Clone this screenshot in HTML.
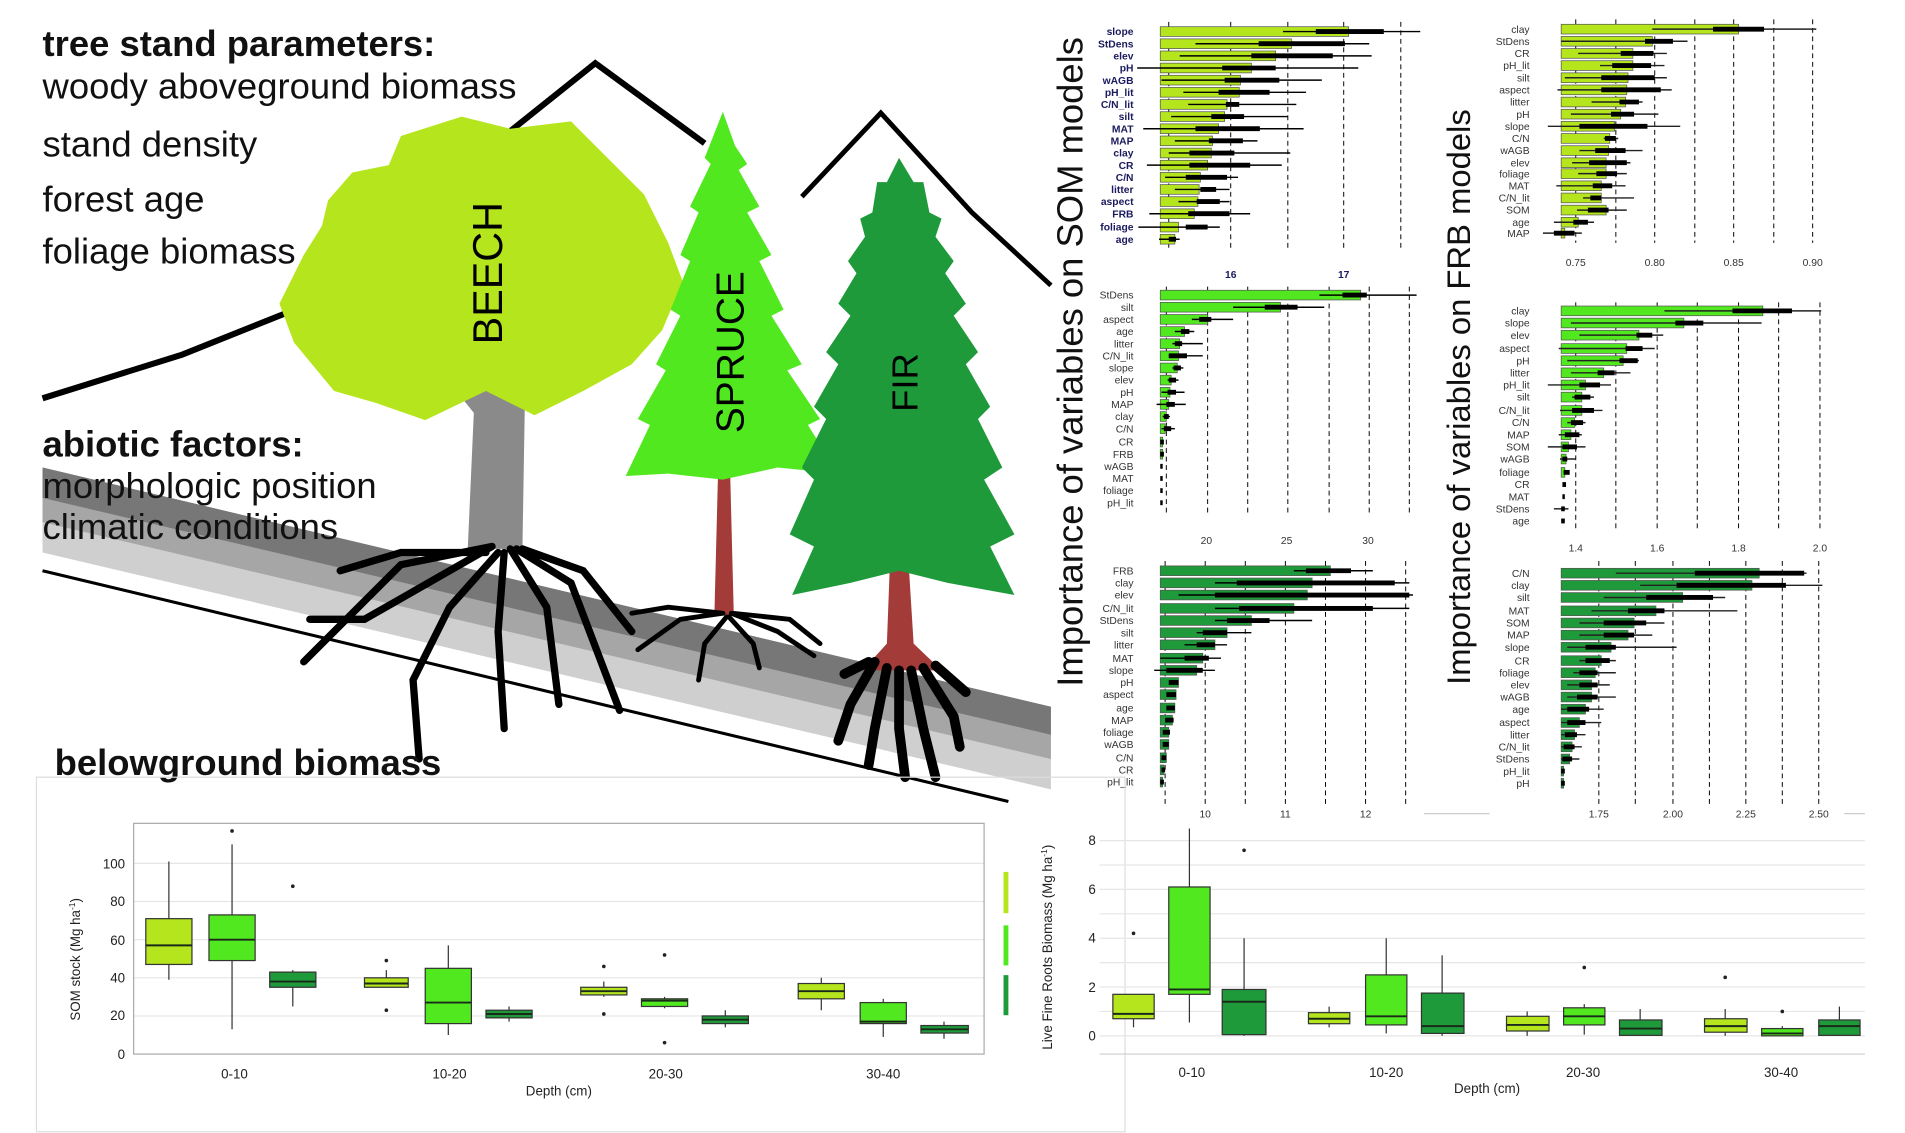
<!DOCTYPE html>
<html><head><meta charset="utf-8"><style>html,body{margin:0;padding:0;background:#fff}svg{display:block}</style></head>
<body>
<svg width="1905" height="1133" viewBox="0 0 1568 933" preserveAspectRatio="none" xmlns="http://www.w3.org/2000/svg" font-family="Liberation Sans, sans-serif">
<rect width="1568" height="933" fill="#fff"/>
<!-- ILLUSTRATION -->
<polyline points="35,328 150,292 250,252 380,140 490,52 580,118" fill="none" stroke="#000" stroke-width="5"/>
<polyline points="660,162 725,93 800,175 865,235" fill="none" stroke="#000" stroke-width="4"/>
<polygon points="35,385 865,582 865,650 35,455" fill="#cfcfcf"/>
<polygon points="35,385 865,582 865,625 35,430" fill="#a6a6a6"/>
<polygon points="35,385 865,582 865,605 35,410" fill="#777"/>
<line x1="35" y1="470" x2="830" y2="660" stroke="#000" stroke-width="2.5"/>
<!-- beech -->
<polygon points="385,310 400,300 410,318 425,300 440,320 432,332 430,452 385,452 390,340 370,315" fill="#8a8a8a"/>
<polygon points="270,165 290,142 320,136 330,112 380,96 420,106 470,100 500,130 530,160 550,200 562,232 545,272 520,300 480,322 440,342 400,322 350,346 310,332 275,322 242,282 230,250 250,210 265,186" fill="#b5e61d"/>
<text transform="translate(413,225) rotate(-90)" text-anchor="middle" font-size="34">BEECH</text>
<!-- spruce -->
<polygon points="591,390 601,390 604,507 588,507" fill="#a33b38"/>
<polygon points="595,92 605,120 615,135 608,140 625,170 615,175 635,210 625,215 645,255 635,260 660,300 648,305 675,345 665,350 690,390 640,385 595,395 550,390 515,392 535,350 525,345 548,305 540,300 560,260 552,255 568,215 560,210 575,175 568,170 585,135 580,130" fill="#52e81f"/>
<text transform="translate(612,290) rotate(-90)" text-anchor="middle" font-size="32">SPRUCE</text>
<!-- fir -->
<polygon points="733,450 747,450 752,530 775,552 710,552 730,530" fill="#a33b38"/>
<polygon points="740,130 752,150 760,150 765,175 775,180 770,195 785,215 778,225 795,250 785,260 805,290 795,300 815,335 805,345 825,385 810,395 835,440 815,450 835,490 780,480 740,470 700,480 652,490 670,450 650,440 670,395 660,385 680,345 670,335 690,300 680,290 700,260 690,250 705,225 698,215 712,195 708,180 718,175 722,150 730,150" fill="#1e9a3a"/>
<text transform="translate(755,315) rotate(-90)" text-anchor="middle" font-size="30">FIR</text>
<!-- roots -->
<g stroke="#000" fill="none" stroke-linecap="round">
<path d="M405,450 L330,465 L250,545 M405,450 L300,510 L255,510 M410,455 L370,500 L340,560 L345,625 M415,455 L410,520 L415,600 M420,452 L450,500 L460,580 M425,452 L470,480 L510,585 M430,452 L480,470 L520,520 M400,455 L330,455 L280,470" stroke-width="6"/>
<path d="M595,505 L560,510 L525,535 M595,505 L550,500 L520,505 M598,508 L580,530 L575,560 M600,508 L620,530 L625,550 M602,505 L640,520 L670,540 M603,505 L650,510 L675,530" stroke-width="4"/>
<path d="M720,545 L700,580 L690,610 M730,550 L720,600 L715,630 M740,552 L740,600 L745,640 M750,552 L760,600 L770,640 M760,550 L785,590 L790,615 M770,548 L795,570 M715,545 L695,555" stroke-width="8"/>
</g>
<g font-size="30" fill="#111">
<text x="35" y="46" font-weight="bold">tree stand parameters:</text>
<text x="35" y="81">woody aboveground biomass</text>
<text x="35" y="129">stand density</text>
<text x="35" y="174">forest age</text>
<text x="35" y="217">foliage biomass</text>
<text x="35" y="376" font-weight="bold">abiotic factors:</text>
<text x="35" y="410">morphologic position</text>
<text x="35" y="444">climatic conditions</text>
<text x="45" y="638" font-weight="bold">belowground biomass</text>
</g>
<!-- AXIS TITLES -->
<text transform="translate(891,298) rotate(-90)" text-anchor="middle" font-size="30" fill="#111">Importance of variables on SOM models</text>
<text transform="translate(1210,327) rotate(-90)" text-anchor="middle" font-size="27" fill="#111">Importance of variables on FRB models</text>

<!-- PANEL TL -->
<g stroke="#000" stroke-dasharray="4,3" stroke-width="0.8"><line x1="962" y1="18" x2="962" y2="205"/><line x1="1013" y1="18" x2="1013" y2="205"/><line x1="1060" y1="18" x2="1060" y2="205"/><line x1="1106" y1="18" x2="1106" y2="205"/><line x1="1153" y1="18" x2="1153" y2="205"/></g>
<g fill="#b5e61d" stroke="#555" stroke-width="0.6">
<rect x="955" y="22" width="155" height="8"/><rect x="955" y="32" width="108" height="8"/><rect x="955" y="42" width="95" height="8"/><rect x="955" y="52" width="75" height="8"/><rect x="955" y="62" width="66" height="8"/><rect x="955" y="72" width="65" height="8"/><rect x="955" y="82" width="55" height="8"/><rect x="955" y="92" width="53" height="8"/><rect x="955" y="102" width="48" height="8"/><rect x="955" y="112" width="43" height="8"/><rect x="955" y="122" width="42" height="8"/><rect x="955" y="132" width="39" height="8"/><rect x="955" y="142" width="33" height="8"/><rect x="955" y="152" width="32" height="8"/><rect x="955" y="162" width="31" height="8"/><rect x="955" y="172" width="28" height="8"/><rect x="955" y="183" width="15" height="8"/><rect x="955" y="193" width="12" height="8"/></g>
<g stroke="#000" stroke-width="1.2">
<line x1="1056" y1="26" x2="1169" y2="26"/><line x1="984" y1="36" x2="1127" y2="36"/><line x1="971" y1="46" x2="1129" y2="46"/><line x1="936" y1="56" x2="1118" y2="56"/><line x1="956" y1="66" x2="1088" y2="66"/><line x1="974" y1="76" x2="1075" y2="76"/><line x1="978" y1="86" x2="1067" y2="86"/><line x1="964" y1="96" x2="1060" y2="96"/><line x1="941" y1="106" x2="1073" y2="106"/><line x1="967" y1="116" x2="1035" y2="116"/><line x1="962" y1="126" x2="1062" y2="126"/><line x1="944" y1="136" x2="1055" y2="136"/><line x1="959" y1="146" x2="1019" y2="146"/><line x1="967" y1="156" x2="1012" y2="156"/><line x1="970" y1="166" x2="1012" y2="166"/><line x1="946" y1="176" x2="1029" y2="176"/><line x1="937" y1="187" x2="1004" y2="187"/><line x1="954" y1="197" x2="971" y2="197"/></g>
<g stroke="#000" stroke-width="4">
<line x1="1083" y1="26" x2="1139" y2="26"/><line x1="1036" y1="36" x2="1107" y2="36"/><line x1="1030" y1="46" x2="1097" y2="46"/><line x1="1006" y1="56" x2="1050" y2="56"/><line x1="1008" y1="66" x2="1053" y2="66"/><line x1="1003" y1="76" x2="1045" y2="76"/><line x1="1009" y1="86" x2="1020" y2="86"/><line x1="997" y1="96" x2="1024" y2="96"/><line x1="984" y1="106" x2="1037" y2="106"/><line x1="995" y1="116" x2="1023" y2="116"/><line x1="979" y1="126" x2="1016" y2="126"/><line x1="979" y1="136" x2="1029" y2="136"/><line x1="976" y1="146" x2="1010" y2="146"/><line x1="988" y1="156" x2="1001" y2="156"/><line x1="985" y1="166" x2="1004" y2="166"/><line x1="978" y1="176" x2="1012" y2="176"/><line x1="976" y1="187" x2="994" y2="187"/><line x1="962" y1="197" x2="968" y2="197"/></g>
<g font-size="8.5" fill="#1a1a5e" text-anchor="end" font-weight="bold">
<text x="933" y="29">slope</text><text x="933" y="39">StDens</text><text x="933" y="49">elev</text><text x="933" y="59">pH</text><text x="933" y="69">wAGB</text><text x="933" y="79">pH_lit</text><text x="933" y="89">C/N_lit</text><text x="933" y="99">silt</text><text x="933" y="109">MAT</text><text x="933" y="119">MAP</text><text x="933" y="129">clay</text><text x="933" y="139">CR</text><text x="933" y="149">C/N</text><text x="933" y="159">litter</text><text x="933" y="169">aspect</text><text x="933" y="179">FRB</text><text x="933" y="190">foliage</text><text x="933" y="200">age</text></g>
<g font-size="8.5" fill="#1a1a5e" text-anchor="middle" font-weight="bold"><text x="1013" y="229">16</text><text x="1106" y="229">17</text></g>

<!-- PANEL TR -->
<g stroke="#000" stroke-dasharray="4,3" stroke-width="0.8"><line x1="1297" y1="16" x2="1297" y2="200"/><line x1="1330" y1="16" x2="1330" y2="200"/><line x1="1362" y1="16" x2="1362" y2="200"/><line x1="1395" y1="16" x2="1395" y2="200"/><line x1="1427" y1="16" x2="1427" y2="200"/><line x1="1460" y1="16" x2="1460" y2="200"/><line x1="1492" y1="16" x2="1492" y2="200"/></g>
<g fill="#b5e61d" stroke="#555" stroke-width="0.6">
<rect x="1285" y="20" width="146" height="8"/><rect x="1285" y="30" width="75" height="8"/><rect x="1285" y="40" width="59" height="8"/><rect x="1285" y="50" width="59" height="8"/><rect x="1285" y="60" width="55" height="8"/><rect x="1285" y="70" width="54" height="8"/><rect x="1285" y="80" width="53" height="8"/><rect x="1285" y="90" width="49" height="8"/><rect x="1285" y="100" width="44" height="8"/><rect x="1285" y="110" width="40" height="8"/><rect x="1285" y="120" width="39" height="8"/><rect x="1285" y="130" width="37" height="8"/><rect x="1285" y="139" width="37" height="8"/><rect x="1285" y="149" width="33" height="8"/><rect x="1285" y="159" width="33" height="8"/><rect x="1285" y="169" width="37" height="8"/><rect x="1285" y="179" width="14" height="8"/><rect x="1285" y="188" width="3" height="8"/></g>
<g stroke="#222" stroke-width="1.2">
<line x1="1360" y1="24" x2="1495" y2="24"/><line x1="1285" y1="34" x2="1389" y2="34"/><line x1="1299" y1="44" x2="1372" y2="44"/><line x1="1317" y1="54" x2="1370" y2="54"/><line x1="1288" y1="64" x2="1372" y2="64"/><line x1="1282" y1="74" x2="1376" y2="74"/><line x1="1310" y1="84" x2="1352" y2="84"/><line x1="1293" y1="94" x2="1365" y2="94"/><line x1="1274" y1="104" x2="1383" y2="104"/><line x1="1320" y1="114" x2="1332" y2="114"/><line x1="1300" y1="124" x2="1352" y2="124"/><line x1="1294" y1="134" x2="1342" y2="134"/><line x1="1299" y1="143" x2="1339" y2="143"/><line x1="1281" y1="153" x2="1338" y2="153"/><line x1="1303" y1="163" x2="1345" y2="163"/><line x1="1298" y1="173" x2="1339" y2="173"/><line x1="1279" y1="183" x2="1312" y2="183"/><line x1="1270" y1="192" x2="1302" y2="192"/></g>
<g stroke="#000" stroke-width="4">
<line x1="1410" y1="24" x2="1452" y2="24"/><line x1="1354" y1="34" x2="1377" y2="34"/><line x1="1334" y1="44" x2="1361" y2="44"/><line x1="1327" y1="54" x2="1359" y2="54"/><line x1="1318" y1="64" x2="1362" y2="64"/><line x1="1318" y1="74" x2="1367" y2="74"/><line x1="1333" y1="84" x2="1349" y2="84"/><line x1="1326" y1="94" x2="1345" y2="94"/><line x1="1300" y1="104" x2="1356" y2="104"/><line x1="1321" y1="114" x2="1330" y2="114"/><line x1="1313" y1="124" x2="1338" y2="124"/><line x1="1308" y1="134" x2="1339" y2="134"/><line x1="1314" y1="143" x2="1331" y2="143"/><line x1="1311" y1="153" x2="1327" y2="153"/><line x1="1309" y1="163" x2="1318" y2="163"/><line x1="1307" y1="173" x2="1324" y2="173"/><line x1="1295" y1="183" x2="1307" y2="183"/><line x1="1279" y1="192" x2="1296" y2="192"/></g>
<g font-size="8.5" fill="#333" text-anchor="end">
<text x="1259" y="27">clay</text><text x="1259" y="37">StDens</text><text x="1259" y="47">CR</text><text x="1259" y="57">pH_lit</text><text x="1259" y="67">silt</text><text x="1259" y="77">aspect</text><text x="1259" y="87">litter</text><text x="1259" y="97">pH</text><text x="1259" y="107">slope</text><text x="1259" y="117">C/N</text><text x="1259" y="127">wAGB</text><text x="1259" y="137">elev</text><text x="1259" y="146">foliage</text><text x="1259" y="156">MAT</text><text x="1259" y="166">C/N_lit</text><text x="1259" y="176">SOM</text><text x="1259" y="186">age</text><text x="1259" y="195">MAP</text></g>
<g font-size="8.5" fill="#333" text-anchor="middle"><text x="1297" y="219">0.75</text><text x="1362" y="219">0.80</text><text x="1427" y="219">0.85</text><text x="1492" y="219">0.90</text></g>

<!-- PANEL ML -->
<g stroke="#000" stroke-dasharray="4,3" stroke-width="0.8"><line x1="960" y1="236" x2="960" y2="425"/><line x1="994" y1="236" x2="994" y2="425"/><line x1="1027" y1="236" x2="1027" y2="425"/><line x1="1060" y1="236" x2="1060" y2="425"/><line x1="1094" y1="236" x2="1094" y2="425"/><line x1="1127" y1="236" x2="1127" y2="425"/><line x1="1160" y1="236" x2="1160" y2="425"/></g>
<g fill="#52e81f" stroke="#555" stroke-width="0.6">
<rect x="955" y="239" width="165" height="8"/><rect x="955" y="249" width="99" height="8"/><rect x="955" y="259" width="39" height="8"/><rect x="955" y="269" width="20" height="8"/><rect x="955" y="279" width="16" height="8"/><rect x="955" y="289" width="15" height="8"/><rect x="955" y="299" width="14" height="8"/><rect x="955" y="309" width="9" height="8"/><rect x="955" y="319" width="8" height="8"/><rect x="955" y="329" width="7" height="8"/><rect x="955" y="339" width="5" height="8"/><rect x="955" y="349" width="4" height="8"/><rect x="955" y="360" width="2" height="8"/><rect x="955" y="370" width="2" height="8"/></g>
<g stroke="#000" stroke-width="1.2">
<line x1="1086" y1="243" x2="1166" y2="243"/><line x1="1015" y1="253" x2="1090" y2="253"/><line x1="981" y1="263" x2="1015" y2="263"/><line x1="967" y1="273" x2="983" y2="273"/><line x1="965" y1="283" x2="990" y2="283"/><line x1="962" y1="293" x2="990" y2="293"/><line x1="965" y1="303" x2="974" y2="303"/><line x1="961" y1="313" x2="970" y2="313"/><line x1="956" y1="323" x2="975" y2="323"/><line x1="952" y1="333" x2="976" y2="333"/><line x1="957" y1="343" x2="963" y2="343"/><line x1="956" y1="353" x2="967" y2="353"/></g>
<g stroke="#000" stroke-width="4">
<line x1="1105" y1="243" x2="1125" y2="243"/><line x1="1041" y1="253" x2="1068" y2="253"/><line x1="987" y1="263" x2="997" y2="263"/><line x1="972" y1="273" x2="979" y2="273"/><line x1="967" y1="283" x2="973" y2="283"/><line x1="962" y1="293" x2="977" y2="293"/><line x1="966" y1="303" x2="972" y2="303"/><line x1="962" y1="313" x2="968" y2="313"/><line x1="961" y1="323" x2="968" y2="323"/><line x1="960" y1="333" x2="967" y2="333"/><line x1="958" y1="343" x2="962" y2="343"/><line x1="958" y1="353" x2="964" y2="353"/><line x1="955" y1="364" x2="958" y2="364"/><line x1="955" y1="374" x2="958" y2="374"/><line x1="955" y1="384" x2="957" y2="384"/><line x1="955" y1="394" x2="957" y2="394"/><line x1="955" y1="404" x2="957" y2="404"/><line x1="955" y1="414" x2="957" y2="414"/></g>
<g font-size="8.5" fill="#333" text-anchor="end">
<text x="933" y="246">StDens</text><text x="933" y="256">silt</text><text x="933" y="266">aspect</text><text x="933" y="276">age</text><text x="933" y="286">litter</text><text x="933" y="296">C/N_lit</text><text x="933" y="306">slope</text><text x="933" y="316">elev</text><text x="933" y="326">pH</text><text x="933" y="336">MAP</text><text x="933" y="346">clay</text><text x="933" y="356">C/N</text><text x="933" y="367">CR</text><text x="933" y="377">FRB</text><text x="933" y="387">wAGB</text><text x="933" y="397">MAT</text><text x="933" y="407">foliage</text><text x="933" y="417">pH_lit</text></g>
<g font-size="8.5" fill="#333" text-anchor="middle"><text x="993" y="448">20</text><text x="1059" y="448">25</text><text x="1126" y="448">30</text></g>

<!-- PANEL MR -->
<g stroke="#000" stroke-dasharray="4,3" stroke-width="0.8"><line x1="1297" y1="249" x2="1297" y2="438"/><line x1="1330" y1="249" x2="1330" y2="438"/><line x1="1364" y1="249" x2="1364" y2="438"/><line x1="1397" y1="249" x2="1397" y2="438"/><line x1="1431" y1="249" x2="1431" y2="438"/><line x1="1464" y1="249" x2="1464" y2="438"/><line x1="1498" y1="249" x2="1498" y2="438"/></g>
<g fill="#52e81f" stroke="#555" stroke-width="0.6">
<rect x="1285" y="252" width="166" height="8"/><rect x="1285" y="262" width="101" height="8"/><rect x="1285" y="272" width="64" height="8"/><rect x="1285" y="283" width="54" height="8"/><rect x="1285" y="293" width="51" height="8"/><rect x="1285" y="303" width="35" height="8"/><rect x="1285" y="313" width="20" height="8"/><rect x="1285" y="323" width="17" height="8"/><rect x="1285" y="334" width="17" height="8"/><rect x="1285" y="344" width="11" height="8"/><rect x="1285" y="354" width="8" height="8"/><rect x="1285" y="364" width="6" height="8"/><rect x="1285" y="374" width="4" height="8"/><rect x="1285" y="385" width="3" height="8"/></g>
<g stroke="#222" stroke-width="1.2">
<line x1="1370" y1="256" x2="1499" y2="256"/><line x1="1293" y1="266" x2="1450" y2="266"/><line x1="1300" y1="276" x2="1369" y2="276"/><line x1="1283" y1="287" x2="1362" y2="287"/><line x1="1290" y1="297" x2="1349" y2="297"/><line x1="1293" y1="307" x2="1342" y2="307"/><line x1="1274" y1="317" x2="1326" y2="317"/><line x1="1294" y1="327" x2="1312" y2="327"/><line x1="1284" y1="338" x2="1319" y2="338"/><line x1="1290" y1="348" x2="1305" y2="348"/><line x1="1283" y1="358" x2="1302" y2="358"/><line x1="1274" y1="368" x2="1305" y2="368"/><line x1="1284" y1="378" x2="1297" y2="378"/><line x1="1279" y1="419" x2="1291" y2="419"/></g>
<g stroke="#000" stroke-width="4">
<line x1="1426" y1="256" x2="1475" y2="256"/><line x1="1379" y1="266" x2="1402" y2="266"/><line x1="1347" y1="276" x2="1360" y2="276"/><line x1="1338" y1="287" x2="1352" y2="287"/><line x1="1333" y1="297" x2="1348" y2="297"/><line x1="1315" y1="307" x2="1329" y2="307"/><line x1="1300" y1="317" x2="1317" y2="317"/><line x1="1296" y1="327" x2="1309" y2="327"/><line x1="1294" y1="338" x2="1312" y2="338"/><line x1="1293" y1="348" x2="1303" y2="348"/><line x1="1288" y1="358" x2="1300" y2="358"/><line x1="1286" y1="368" x2="1298" y2="368"/><line x1="1286" y1="378" x2="1290" y2="378"/><line x1="1287" y1="389" x2="1292" y2="389"/><line x1="1286" y1="399" x2="1289" y2="399"/><line x1="1286" y1="409" x2="1288" y2="409"/><line x1="1285" y1="419" x2="1288" y2="419"/><line x1="1285" y1="429" x2="1288" y2="429"/></g>
<g font-size="8.5" fill="#333" text-anchor="end">
<text x="1259" y="259">clay</text><text x="1259" y="269">slope</text><text x="1259" y="279">elev</text><text x="1259" y="290">aspect</text><text x="1259" y="300">pH</text><text x="1259" y="310">litter</text><text x="1259" y="320">pH_lit</text><text x="1259" y="330">silt</text><text x="1259" y="341">C/N_lit</text><text x="1259" y="351">C/N</text><text x="1259" y="361">MAP</text><text x="1259" y="371">SOM</text><text x="1259" y="381">wAGB</text><text x="1259" y="392">foliage</text><text x="1259" y="402">CR</text><text x="1259" y="412">MAT</text><text x="1259" y="422">StDens</text><text x="1259" y="432">age</text></g>
<g font-size="8.5" fill="#333" text-anchor="middle"><text x="1297" y="454">1.4</text><text x="1364" y="454">1.6</text><text x="1431" y="454">1.8</text><text x="1498" y="454">2.0</text></g>

<!-- PANEL BL -->
<g stroke="#000" stroke-dasharray="4,3" stroke-width="0.8"><line x1="959" y1="462" x2="959" y2="662"/><line x1="992" y1="462" x2="992" y2="662"/><line x1="1025" y1="462" x2="1025" y2="662"/><line x1="1058" y1="462" x2="1058" y2="662"/><line x1="1091" y1="462" x2="1091" y2="662"/><line x1="1124" y1="462" x2="1124" y2="662"/><line x1="1157" y1="462" x2="1157" y2="662"/></g>
<g fill="#1e9a3a" stroke="#555" stroke-width="0.6">
<rect x="955" y="466" width="140" height="8"/><rect x="955" y="476" width="125" height="8"/><rect x="955" y="486" width="121" height="8"/><rect x="955" y="497" width="110" height="8"/><rect x="955" y="507" width="75" height="8"/><rect x="955" y="517" width="55" height="8"/><rect x="955" y="527" width="45" height="8"/><rect x="955" y="538" width="35" height="8"/><rect x="955" y="548" width="30" height="8"/><rect x="955" y="558" width="15" height="8"/><rect x="955" y="568" width="13" height="8"/><rect x="955" y="579" width="12" height="8"/><rect x="955" y="589" width="10" height="8"/><rect x="955" y="599" width="7" height="8"/><rect x="955" y="609" width="7" height="8"/><rect x="955" y="620" width="5" height="8"/><rect x="955" y="630" width="3" height="8"/><rect x="955" y="640" width="2" height="8"/></g>
<g stroke="#000" stroke-width="1.2">
<line x1="1065" y1="470" x2="1130" y2="470"/><line x1="1000" y1="480" x2="1160" y2="480"/><line x1="970" y1="490" x2="1163" y2="490"/><line x1="1000" y1="501" x2="1160" y2="501"/><line x1="1000" y1="511" x2="1080" y2="511"/><line x1="985" y1="521" x2="1030" y2="521"/><line x1="975" y1="531" x2="1010" y2="531"/><line x1="955" y1="542" x2="1005" y2="542"/><line x1="950" y1="552" x2="1000" y2="552"/></g>
<g stroke="#000" stroke-width="4">
<line x1="1075" y1="470" x2="1112" y2="470"/><line x1="1018" y1="480" x2="1148" y2="480"/><line x1="1000" y1="490" x2="1160" y2="490"/><line x1="1020" y1="501" x2="1130" y2="501"/><line x1="1010" y1="511" x2="1045" y2="511"/><line x1="990" y1="521" x2="1010" y2="521"/><line x1="985" y1="531" x2="1000" y2="531"/><line x1="975" y1="542" x2="995" y2="542"/><line x1="960" y1="552" x2="990" y2="552"/><line x1="962" y1="562" x2="970" y2="562"/><line x1="960" y1="572" x2="968" y2="572"/><line x1="960" y1="583" x2="967" y2="583"/><line x1="959" y1="593" x2="966" y2="593"/><line x1="957" y1="603" x2="963" y2="603"/><line x1="957" y1="613" x2="962" y2="613"/><line x1="956" y1="624" x2="960" y2="624"/><line x1="956" y1="634" x2="959" y2="634"/><line x1="955" y1="644" x2="958" y2="644"/></g>
<g font-size="8.5" fill="#333" text-anchor="end">
<text x="933" y="473">FRB</text><text x="933" y="483">clay</text><text x="933" y="493">elev</text><text x="933" y="504">C/N_lit</text><text x="933" y="514">StDens</text><text x="933" y="524">silt</text><text x="933" y="534">litter</text><text x="933" y="545">MAT</text><text x="933" y="555">slope</text><text x="933" y="565">pH</text><text x="933" y="575">aspect</text><text x="933" y="586">age</text><text x="933" y="596">MAP</text><text x="933" y="606">foliage</text><text x="933" y="616">wAGB</text><text x="933" y="627">C/N</text><text x="933" y="637">CR</text><text x="933" y="647">pH_lit</text></g>
<g font-size="8.5" fill="#333" text-anchor="middle"><text x="992" y="673">10</text><text x="1058" y="673">11</text><text x="1124" y="673">12</text></g>
<line x1="1172" y1="670" x2="1226" y2="670" stroke="#ccc" stroke-width="1"/>
<line x1="1518" y1="670" x2="1535" y2="670" stroke="#ccc" stroke-width="1"/>

<!-- PANEL BR -->
<g stroke="#000" stroke-dasharray="4,3" stroke-width="0.8"><line x1="1316" y1="462" x2="1316" y2="662"/><line x1="1346" y1="462" x2="1346" y2="662"/><line x1="1377" y1="462" x2="1377" y2="662"/><line x1="1407" y1="462" x2="1407" y2="662"/><line x1="1437" y1="462" x2="1437" y2="662"/><line x1="1467" y1="462" x2="1467" y2="662"/><line x1="1497" y1="462" x2="1497" y2="662"/></g>
<g fill="#1e9a3a" stroke="#555" stroke-width="0.6">
<rect x="1285" y="468" width="163" height="8"/><rect x="1285" y="478" width="157" height="8"/><rect x="1285" y="488" width="100" height="8"/><rect x="1285" y="499" width="78" height="8"/><rect x="1285" y="509" width="60" height="8"/><rect x="1285" y="519" width="55" height="8"/><rect x="1285" y="529" width="41" height="8"/><rect x="1285" y="540" width="33" height="8"/><rect x="1285" y="550" width="28" height="8"/><rect x="1285" y="560" width="25" height="8"/><rect x="1285" y="570" width="25" height="8"/><rect x="1285" y="580" width="20" height="8"/><rect x="1285" y="591" width="15" height="8"/><rect x="1285" y="601" width="11" height="8"/><rect x="1285" y="611" width="9" height="8"/><rect x="1285" y="621" width="7" height="8"/><rect x="1285" y="631" width="2" height="8"/><rect x="1285" y="641" width="2" height="8"/></g>
<g stroke="#222" stroke-width="1.2">
<line x1="1330" y1="472" x2="1487" y2="472"/><line x1="1350" y1="482" x2="1500" y2="482"/><line x1="1320" y1="492" x2="1420" y2="492"/><line x1="1310" y1="503" x2="1430" y2="503"/><line x1="1300" y1="513" x2="1370" y2="513"/><line x1="1300" y1="523" x2="1360" y2="523"/><line x1="1290" y1="533" x2="1380" y2="533"/><line x1="1300" y1="544" x2="1330" y2="544"/><line x1="1295" y1="554" x2="1330" y2="554"/><line x1="1290" y1="564" x2="1325" y2="564"/><line x1="1290" y1="574" x2="1330" y2="574"/><line x1="1285" y1="584" x2="1320" y2="584"/><line x1="1285" y1="595" x2="1318" y2="595"/><line x1="1285" y1="605" x2="1305" y2="605"/><line x1="1285" y1="615" x2="1302" y2="615"/><line x1="1285" y1="625" x2="1300" y2="625"/></g>
<g stroke="#000" stroke-width="4">
<line x1="1395" y1="472" x2="1485" y2="472"/><line x1="1380" y1="482" x2="1470" y2="482"/><line x1="1355" y1="492" x2="1410" y2="492"/><line x1="1340" y1="503" x2="1370" y2="503"/><line x1="1320" y1="513" x2="1355" y2="513"/><line x1="1320" y1="523" x2="1345" y2="523"/><line x1="1305" y1="533" x2="1330" y2="533"/><line x1="1305" y1="544" x2="1325" y2="544"/><line x1="1300" y1="554" x2="1315" y2="554"/><line x1="1300" y1="564" x2="1315" y2="564"/><line x1="1298" y1="574" x2="1315" y2="574"/><line x1="1290" y1="584" x2="1308" y2="584"/><line x1="1290" y1="595" x2="1305" y2="595"/><line x1="1288" y1="605" x2="1298" y2="605"/><line x1="1287" y1="615" x2="1296" y2="615"/><line x1="1286" y1="625" x2="1294" y2="625"/><line x1="1285" y1="635" x2="1288" y2="635"/><line x1="1285" y1="645" x2="1288" y2="645"/></g>
<g font-size="8.5" fill="#333" text-anchor="end">
<text x="1259" y="475">C/N</text><text x="1259" y="485">clay</text><text x="1259" y="495">silt</text><text x="1259" y="506">MAT</text><text x="1259" y="516">SOM</text><text x="1259" y="526">MAP</text><text x="1259" y="536">slope</text><text x="1259" y="547">CR</text><text x="1259" y="557">foliage</text><text x="1259" y="567">elev</text><text x="1259" y="577">wAGB</text><text x="1259" y="587">age</text><text x="1259" y="598">aspect</text><text x="1259" y="608">litter</text><text x="1259" y="618">C/N_lit</text><text x="1259" y="628">StDens</text><text x="1259" y="638">pH_lit</text><text x="1259" y="648">pH</text></g>
<g font-size="8.5" fill="#333" text-anchor="middle"><text x="1316" y="673">1.75</text><text x="1377" y="673">2.00</text><text x="1437" y="673">2.25</text><text x="1497" y="673">2.50</text></g>

<!-- SOM BOXPLOT -->
<rect x="30" y="640" width="896" height="292" fill="none" stroke="#ddd" stroke-width="1"/>
<g stroke="#e6e6e6" stroke-width="1"><line x1="110" y1="836.6" x2="810" y2="836.6"/><line x1="110" y1="805.2" x2="810" y2="805.2"/><line x1="110" y1="773.8" x2="810" y2="773.8"/><line x1="110" y1="742.4" x2="810" y2="742.4"/><line x1="110" y1="711" x2="810" y2="711"/></g>
<rect x="110" y="678" width="700" height="190" fill="none" stroke="#aaa" stroke-width="1"/>
<g font-size="11" fill="#222" text-anchor="end"><text x="103" y="872">0</text><text x="103" y="840">20</text><text x="103" y="809">40</text><text x="103" y="778">60</text><text x="103" y="746">80</text><text x="103" y="715">100</text></g>
<g font-size="11" fill="#222" text-anchor="middle"><text x="193" y="888">0-10</text><text x="370" y="888">10-20</text><text x="548" y="888">20-30</text><text x="727" y="888">30-40</text><text x="460" y="902">Depth (cm)</text></g>
<text transform="translate(66,790) rotate(-90)" text-anchor="middle" font-size="11" fill="#222">SOM stock (Mg ha<tspan baseline-shift="super" font-size="7">-1</tspan>)</text>
<g stroke="#333" stroke-width="1">
<line x1="139" y1="806.8" x2="139" y2="709.4"/><line x1="191" y1="847.6" x2="191" y2="695.3"/><line x1="241" y1="828.8" x2="241" y2="798.9"/>
<line x1="318" y1="813" x2="318" y2="798.9"/><line x1="369" y1="852.3" x2="369" y2="778.5"/><line x1="419" y1="841.3" x2="419" y2="828.8"/>
<line x1="497" y1="820.9" x2="497" y2="808.3"/><line x1="547" y1="830.3" x2="547" y2="820.9"/><line x1="597" y1="846" x2="597" y2="831.9"/>
<line x1="676" y1="831.9" x2="676" y2="805.2"/><line x1="727" y1="853.9" x2="727" y2="822.5"/><line x1="777" y1="855.4" x2="777" y2="841.3"/></g>
<g stroke="#333" stroke-width="1">
<rect x="120" y="756.5" width="38" height="37.7" fill="#b5e61d"/><rect x="172" y="753.4" width="38" height="37.6" fill="#52e81f"/><rect x="222" y="800.5" width="38" height="12.5" fill="#1e9a3a"/>
<rect x="300" y="805.2" width="36" height="7.8" fill="#b5e61d"/><rect x="350" y="797.4" width="38" height="45.5" fill="#52e81f"/><rect x="400" y="831.9" width="38" height="6.3" fill="#1e9a3a"/>
<rect x="478" y="813" width="38" height="6.3" fill="#b5e61d"/><rect x="528" y="822.5" width="38" height="6.3" fill="#52e81f"/><rect x="578" y="836.6" width="38" height="6.3" fill="#1e9a3a"/>
<rect x="657" y="809.9" width="38" height="12.6" fill="#b5e61d"/><rect x="708" y="825.6" width="38" height="17.3" fill="#52e81f"/><rect x="758" y="844.5" width="39" height="6.2" fill="#1e9a3a"/></g>
<g stroke="#1a2a1a" stroke-width="1.6">
<line x1="120" y1="778.5" x2="158" y2="778.5"/><line x1="172" y1="773.8" x2="210" y2="773.8"/><line x1="222" y1="808.3" x2="260" y2="808.3"/>
<line x1="300" y1="809.9" x2="336" y2="809.9"/><line x1="350" y1="825.6" x2="388" y2="825.6"/><line x1="400" y1="835" x2="438" y2="835"/>
<line x1="478" y1="816.2" x2="516" y2="816.2"/><line x1="528" y1="824" x2="566" y2="824"/><line x1="578" y1="839.7" x2="616" y2="839.7"/>
<line x1="657" y1="816.2" x2="695" y2="816.2"/><line x1="708" y1="841.3" x2="746" y2="841.3"/><line x1="758" y1="847.6" x2="797" y2="847.6"/></g>
<g fill="#222"><circle cx="191" cy="684.3" r="1.5"/><circle cx="241" cy="729.8" r="1.5"/><circle cx="318" cy="791" r="1.5"/><circle cx="318" cy="831.9" r="1.5"/><circle cx="497" cy="795.8" r="1.5"/><circle cx="497" cy="835" r="1.5"/><circle cx="547" cy="786.4" r="1.5"/><circle cx="547" cy="858.6" r="1.5"/></g>
<rect x="826" y="718" width="4" height="34" fill="#b5e61d"/><rect x="826" y="762" width="4" height="33" fill="#52e81f"/><rect x="826" y="803" width="4" height="33" fill="#1e9a3a"/>

<!-- FRB BOXPLOT -->
<g stroke="#e6e6e6" stroke-width="1">
<line x1="905" y1="853" x2="1535" y2="853"/><line x1="905" y1="832.9" x2="1535" y2="832.9"/><line x1="905" y1="812.8" x2="1535" y2="812.8"/><line x1="905" y1="792.7" x2="1535" y2="792.7"/><line x1="905" y1="772.6" x2="1535" y2="772.6"/><line x1="905" y1="752.5" x2="1535" y2="752.5"/><line x1="905" y1="732.4" x2="1535" y2="732.4"/><line x1="905" y1="712.3" x2="1535" y2="712.3"/><line x1="905" y1="692.2" x2="1535" y2="692.2"/></g>
<line x1="905" y1="868" x2="1535" y2="868" stroke="#ccc"/>
<g font-size="11" fill="#222" text-anchor="end"><text x="902" y="857">0</text><text x="902" y="817">2</text><text x="902" y="776">4</text><text x="902" y="736">6</text><text x="902" y="696">8</text></g>
<g font-size="11" fill="#222" text-anchor="middle"><text x="981" y="887">0-10</text><text x="1141" y="887">10-20</text><text x="1303" y="887">20-30</text><text x="1466" y="887">30-40</text><text x="1224" y="900">Depth (cm)</text></g>
<text transform="translate(866,780) rotate(-90)" text-anchor="middle" font-size="11" fill="#222">Live Fine Roots Biomass (Mg ha<tspan baseline-shift="super" font-size="7">-1</tspan>)</text>
<g stroke="#333" stroke-width="1">
<line x1="933" y1="846" x2="933" y2="818.8"/><line x1="979" y1="842" x2="979" y2="682.2"/><line x1="1024" y1="853" x2="1024" y2="772.6"/>
<line x1="1094" y1="846" x2="1094" y2="828.9"/><line x1="1141" y1="851" x2="1141" y2="772.6"/><line x1="1187" y1="853" x2="1187" y2="786.7"/>
<line x1="1257" y1="853" x2="1257" y2="832.9"/><line x1="1304" y1="852" x2="1304" y2="826.9"/><line x1="1350" y1="853" x2="1350" y2="830.9"/>
<line x1="1420" y1="853" x2="1420" y2="830.9"/><line x1="1467" y1="853" x2="1467" y2="845"/><line x1="1514" y1="853" x2="1514" y2="828.9"/></g>
<g stroke="#333" stroke-width="1">
<rect x="916" y="818.8" width="34" height="20.1" fill="#b5e61d"/><rect x="962" y="730.4" width="34" height="88.4" fill="#52e81f"/><rect x="1006" y="814.8" width="36" height="37.2" fill="#1e9a3a"/>
<rect x="1077" y="833.9" width="34" height="9.1" fill="#b5e61d"/><rect x="1124" y="802.8" width="34" height="41.2" fill="#52e81f"/><rect x="1170" y="817.8" width="35" height="33.2" fill="#1e9a3a"/>
<rect x="1240" y="836.9" width="35" height="12.1" fill="#b5e61d"/><rect x="1287" y="829.9" width="34" height="14.1" fill="#52e81f"/><rect x="1333" y="839.9" width="35" height="12.7" fill="#1e9a3a"/>
<rect x="1403" y="838.9" width="35" height="11.1" fill="#b5e61d"/><rect x="1450" y="847" width="34" height="6" fill="#52e81f"/><rect x="1497" y="839.9" width="34" height="12.7" fill="#1e9a3a"/></g>
<g stroke="#1a2a1a" stroke-width="1.6">
<line x1="916" y1="834.9" x2="950" y2="834.9"/><line x1="962" y1="814.8" x2="996" y2="814.8"/><line x1="1006" y1="824.9" x2="1042" y2="824.9"/>
<line x1="1077" y1="838.9" x2="1111" y2="838.9"/><line x1="1124" y1="836.9" x2="1158" y2="836.9"/><line x1="1170" y1="845" x2="1205" y2="845"/>
<line x1="1240" y1="844" x2="1275" y2="844"/><line x1="1287" y1="836.9" x2="1321" y2="836.9"/><line x1="1333" y1="847" x2="1368" y2="847"/>
<line x1="1403" y1="845" x2="1438" y2="845"/><line x1="1450" y1="851" x2="1484" y2="851"/><line x1="1497" y1="845" x2="1531" y2="845"/></g>
<g fill="#222"><circle cx="933" cy="768.6" r="1.5"/><circle cx="1024" cy="700.2" r="1.5"/><circle cx="1304" cy="796.7" r="1.5"/><circle cx="1420" cy="804.8" r="1.5"/><circle cx="1467" cy="832.9" r="1.5"/></g>
</svg>
</body></html>
